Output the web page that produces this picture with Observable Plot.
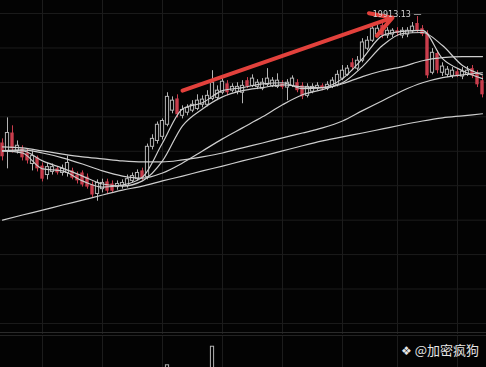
<!DOCTYPE html>
<html><head><meta charset="utf-8">
<script src="https://cdn.jsdelivr.net/npm/d3@7"></script>
<script src="https://cdn.jsdelivr.net/npm/@observablehq/plot@0.6"></script>
<style>
html,body{margin:0;padding:0;background:#030303;}
#wrap{position:relative;width:486px;height:367px;overflow:hidden;background:#030303;}
#price svg,#vol svg{display:block;filter:blur(0.35px);}
.sep{position:absolute;left:0;width:486px;height:1px;background:#2a2a2a;}
#wm{position:absolute;left:401px;top:340px;font-family:"Noto Sans CJK SC","Noto Sans";font-size:13px;line-height:20px;color:#e6e6e6;white-space:nowrap;}
#wm .logo{font-family:"DejaVu Sans";font-size:12px;margin-right:3px;}
</style></head>
<body>
<div id="wrap">
  <div id="price"></div>
  <div id="vol"></div>
  <div class="sep" style="top:332px"></div>
  <div class="sep" style="top:335px;background:#222"></div>
  <div id="wm"><span class="logo">❖</span>@加密疯狗</div>
</div>
<script>
// ---- candle data (index = candle number, prices) ----
const open = [
16240,16010,16530,16010,16070,15950,15630,15810,15570,15310,
15400,15490,15370,15370,15430,15310,15370,15250,15020,14760,
14900,15110,15050,14960,14990,14990,15140,15190,15430,15250,
16130,16300,16420,16770,17180,17520,17030,17120,17180,17230,
17350,17350,17520,17550,17700,17960,17760,17730,17700,18050,
17900,17870,17820,17930,17900,17870,17960,17850,17900,17990,
17900,17610,17730,17820,17900,17820,17870,17930,18110,18220,
18570,18400,18630,18980,19210,19390,19650,19360,19390,19500,
19360,19390,19480,19710,19560,19420,18280,18840,18280,18220,
18190,18310,18170,18220,18400,18250,18050];
const close = [
15840,16530,16070,16160,15810,15720,15860,15490,15190,15540,
15540,15370,15490,15660,15220,15140,15020,14960,14730,15080,
15080,14840,14840,15050,15080,15190,15280,15370,15220,16130,
16360,16770,16880,17580,17470,17060,17200,17260,17350,17470,
17500,17610,17990,17760,18020,17700,17870,17870,17900,17870,
18110,17990,17990,18110,18050,18050,17850,17990,18110,17760,
17580,17870,17870,17900,17820,17930,18050,18220,18340,18400,
18430,18630,19160,19210,19560,19560,19360,19500,19500,19420,
19500,19500,19620,19500,19390,18190,18860,18340,18460,18370,
18340,18190,18310,18340,18190,17930,17640];
const high = [
16360,16970,16740,16300,16160,16070,16010,15860,15660,15660,
15630,15540,15600,15860,15510,15400,15430,15340,15110,15170,
15190,15190,15140,15140,15170,15310,15370,15460,15510,16210,
16480,16850,16940,17700,17580,17640,17320,17350,17470,17640,
17610,17760,18340,17900,18110,18050,17960,17990,18050,18140,
18220,18080,18110,18400,18140,18250,18050,18080,18190,18080,
17990,17960,17960,17990,17960,18020,18140,18340,18490,18490,
18690,18750,19270,19330,19680,19650,19740,19590,19560,19590,
19590,19590,19740,19913.13,19650,19500,18980,18920,18570,18460,
18430,18400,18430,18460,18490,18340,18170];
const low = [
15720,15490,15950,15920,15720,15630,15430,15400,15110,15170,
15310,15310,15280,15250,15170,15050,14960,14900,14640,14550,
14790,14760,14790,14870,14900,14930,15080,15140,15140,15170,
16040,16210,16330,16710,17090,16970,16940,17030,17120,17180,
17260,17290,17470,17470,17640,17610,17700,17640,17380,17820,
17850,17790,17760,17870,17850,17820,17790,17470,17850,17700,
17500,17550,17670,17760,17760,17760,17820,17870,18050,18170,
18340,18340,18570,18920,19160,19330,19270,19270,19300,19330,
19270,19300,19420,19450,19330,18110,18220,18250,18170,18140,
18110,18140,18080,18170,18110,17850,17550];
const volume = [
30,42,28,20,25,22,30,26,35,22,
18,15,20,28,22,25,30,27,38,34,
20,25,22,18,16,20,18,17,22,48,
36,40,35,55,44,46,30,26,24,28,
25,34,84,40,38,36,28,24,30,26,
24,22,20,35,22,26,20,24,22,26,
34,28,20,18,22,20,24,30,32,26,
22,28,44,34,40,30,36,28,24,22,
20,22,26,30,34,48,40,36,28,24,
22,20,22,20,26,34,38];

// ---- moving averages, read at every 4th candle ----
const maIndex = [0,4,8,12,16,20,24,28,32,36,40,44,48,52,56,60,64,68,72,76,80,84,88,92,96];
const ma5 = [16010,15950,15490,15430,15140,14960,15020,15250,16240,17230,17410,17760,17850,17960,17990,17820,17850,18110,18690,19360,19480,19510,18690,18340,18110];
const ma10 = [16010,16010,15720,15510,15280,15050,14990,15140,15720,16740,17230,17580,17760,17850,17930,17870,17850,17990,18460,19070,19420,19450,19070,18490,18220];
const ma30 = [16010,16040,15950,15810,15630,15430,15280,15220,15370,15660,16010,16360,16680,17000,17350,17640,17790,17960,18170,18340,18460,18630,18720,18750,18750];
const ma60 = [16130,16100,16010,15920,15840,15780,15720,15690,15690,15750,15840,15950,16100,16240,16390,16530,16680,16880,17180,17470,17760,17990,18140,18220,18280];
const ma120 = [14000,14150,14290,14440,14580,14730,14870,14990,15140,15280,15430,15570,15720,15860,16010,16160,16300,16420,16530,16650,16770,16880,16970,17030,17090];

// ---- grid ticks, annotation ----
const gridX = [8,20,32,44,56,68,79,91];
const gridY = [20000,19000,18000,17000,16000,15000,14000,13000,12000,11000];
const arrowFrom = {i:36, p:17760};
const arrowTo = {i:78, p:19880};
const highMark = {i:83, p:19913.13};

const UP = "#b4b4b4", DOWN = "#c93d4c", BG = "#030303";
const candles = open.map((o,i)=>({i, open:o, close:close[i], high:high[i], low:low[i], vol:volume[i], up: close[i] >= o}));
const upC = candles.filter(d=>d.up), dnC = candles.filter(d=>!d.up);
const maRows = [["ma5",ma5],["ma10",ma10],["ma30",ma30],["ma60",ma60],["ma120",ma120]]
  .flatMap(([name,arr]) => maIndex.map((i,k)=>({i, v:arr[k], name})));
const X = {domain:[-0.4,96.8], axis:null};

const price = Plot.plot({
  width:486, height:334, margin:0,
  style:{background:BG},
  x:X,
  y:{domain:[10679,20379], axis:null},
  marks:[
    Plot.ruleX(gridX,{stroke:"#1c1c1c"}),
    Plot.ruleY(gridY,{stroke:"#1c1c1c"}),
    Plot.ruleX(upC,{x:"i", y1:"low", y2:"high", stroke:UP, strokeWidth:1}),
    Plot.ruleX(dnC,{x:"i", y1:"low", y2:"high", stroke:DOWN, strokeWidth:1}),
    Plot.rect(upC,{x1:d=>d.i-0.32, x2:d=>d.i+0.32, y1:"open", y2:"close", fill:BG, stroke:UP, strokeWidth:1}),
    Plot.rect(dnC,{x1:d=>d.i-0.34, x2:d=>d.i+0.34, y1:"open", y2:"close", fill:DOWN}),
    Plot.line(maRows,{x:"i", y:"v", z:"name", stroke:"#cdcdcd", strokeWidth:1.2, curve:"monotone-x"}),
    Plot.arrow([{a:arrowFrom, b:arrowTo}],{x1:d=>d.a.i, y1:d=>d.a.p, x2:d=>d.b.i, y2:d=>d.b.p, stroke:"#e2413c", strokeWidth:4, headLength:9, bend:0}),
    Plot.text([highMark],{x:"i", y:"p", text:d=>d3.format(".2f")(d.p)+" —", textAnchor:"end", dx:4, dy:-2, fill:"#d4d4d4", fontSize:8, fontFamily:"DejaVu Sans"})
  ]
});
document.getElementById("price").append(price);

const vol = Plot.plot({
  width:486, height:66, margin:0, marginTop:2,
  style:{background:BG},
  x:X,
  y:{domain:[0,100], axis:null},
  marks:[
    Plot.ruleX(gridX,{stroke:"#1c1c1c"}),
    Plot.rectY(upC,{x1:d=>d.i-0.32, x2:d=>d.i+0.32, y:"vol", fill:BG, stroke:UP, strokeWidth:1}),
    Plot.rectY(dnC,{x1:d=>d.i-0.34, x2:d=>d.i+0.34, y:"vol", fill:DOWN})
  ]
});
document.getElementById("vol").append(vol);
</script>
</body></html>
